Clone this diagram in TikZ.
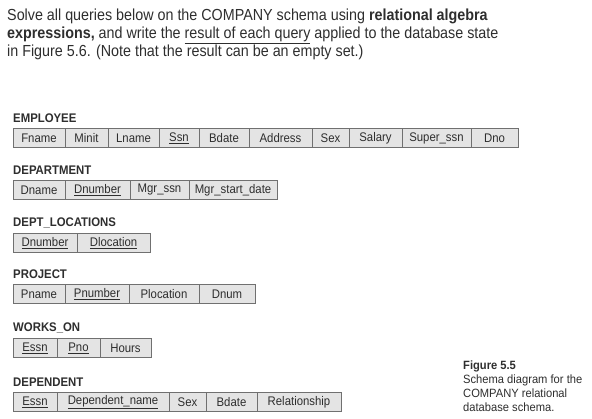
\documentclass[tikz,border=0pt]{standalone}
\usepackage{fontspec}
\setmainfont{Liberation Sans}
\newfontfamily\headfont[FakeStretch=0.895]{Liberation Sans}
\newfontfamily\cellfont[FakeStretch=0.91]{Liberation Sans}
\newfontfamily\capfont[FakeStretch=0.93]{Liberation Sans}
\definecolor{txtGray}{HTML}{2E2E2E}
\definecolor{cellFill}{HTML}{E4E4E4}
\definecolor{cellLine}{HTML}{707070}
\tikzstyle{aS}=[draw=cellLine,fill=cellFill,line width=0.8pt,minimum height=19pt,inner sep=0pt,text=txtGray,font=\cellfont\fontsize{12.5}{14}\selectfont]
\tikzstyle{tS}=[anchor=west,inner sep=0pt,text=txtGray,font=\cellfont\fontsize{12.5}{14}\selectfont\bfseries]
\tikzstyle{hS}=[anchor=north west,inner sep=0pt,align=left,text=txtGray,font=\headfont\fontsize{16}{18}\selectfont]
\tikzstyle{cS}=[anchor=north west,inner sep=0pt,align=left,text=txtGray,font=\capfont\fontsize{12}{14}\selectfont]

\begin{document}
\begin{tikzpicture}[x=1pt,y=-1pt]
    \useasboundingbox (0,0) rectangle (592,419);
    \draw (7,9) node[hS] (intro) {Solve all queries below on the COMPANY schema using \textbf{relational algebra}\\
        \textbf{expressions,} and write the \underline{result of each query} applied to the database state\\
        in Figure 5.6. (Note that the result can be an empty set.)};

    % EMPLOYEE
    \draw (13,118) node[tS] (tEmp) {EMPLOYEE};
    \draw (39,138)   node[aS,minimum width=52] (eFname) {Fname};
    \draw (86.5,138) node[aS,minimum width=43] (eMinit) {Minit};
    \draw (133.5,138) node[aS,minimum width=51] (eLname) {Lname};
    \draw (179,138)  node[aS,minimum width=40] (eSsn) {\underline{Ssn}};
    \draw (224,138)  node[aS,minimum width=50] (eBdate) {Bdate};
    \draw (280.5,138) node[aS,minimum width=63] (eAddress) {Address};
    \draw (330.5,138) node[aS,minimum width=37] (eSex) {Sex};
    \draw (375.5,138) node[aS,minimum width=53] (eSalary) {Salary};
    \draw (436.5,138) node[aS,minimum width=69] (eSuper) {Super\_ssn};
    \draw (494.5,138) node[aS,minimum width=47] (eDno) {Dno};

    % DEPARTMENT
    \draw (13,170) node[tS] (tDept) {DEPARTMENT};
    \draw (39,190)   node[aS,minimum width=52] (dDname) {Dname};
    \draw (97.5,190) node[aS,minimum width=65] (dDnumber) {\underline{Dnumber}};
    \draw (159.5,190) node[aS,minimum width=59] (dMgr) {Mgr\_ssn};
    \draw (233,190)  node[aS,minimum width=88] (dStart) {Mgr\_start\_date};

    % DEPT_LOCATIONS
    \draw (13,223) node[tS] (tLoc) {DEPT\_LOCATIONS};
    \draw (45,243)   node[aS,minimum width=64] (lDnumber) {\underline{Dnumber}};
    \draw (113.5,243) node[aS,minimum width=73] (lDlocation) {\underline{Dlocation}};

    % PROJECT
    \draw (13,274) node[tS] (tProj) {PROJECT};
    \draw (39,294)   node[aS,minimum width=52] (pPname) {Pname};
    \draw (97,294)   node[aS,minimum width=64] (pPnumber) {\underline{Pnumber}};
    \draw (164,294)  node[aS,minimum width=70] (pPlocation) {Plocation};
    \draw (227,294)  node[aS,minimum width=56] (pDnum) {Dnum};

    % WORKS_ON
    \draw (13,328) node[tS] (tWorks) {WORKS\_ON};
    \draw (35,348)   node[aS,minimum width=44] (wEssn) {\underline{Essn}};
    \draw (78.5,348) node[aS,minimum width=43] (wPno) {\underline{Pno}};
    \draw (125.5,348) node[aS,minimum width=51] (wHours) {Hours};

    % DEPENDENT
    \draw (13,382) node[tS] (tDep) {DEPENDENT};
    \draw (35,402)   node[aS,minimum width=44] (dpEssn) {\underline{Essn}};
    \draw (113,402)  node[aS,minimum width=112] (dpName) {\underline{Dependent\_name}};
    \draw (187.5,402) node[aS,minimum width=37] (dpSex) {Sex};
    \draw (231.5,402) node[aS,minimum width=51] (dpBdate) {Bdate};
    \draw (299,402)  node[aS,minimum width=84] (dpRel) {Relationship};

    \draw (463,361) node[cS] (caption) {\textbf{Figure 5.5}\\Schema diagram for the\\COMPANY relational\\database schema.};
\end{tikzpicture}
\end{document}
